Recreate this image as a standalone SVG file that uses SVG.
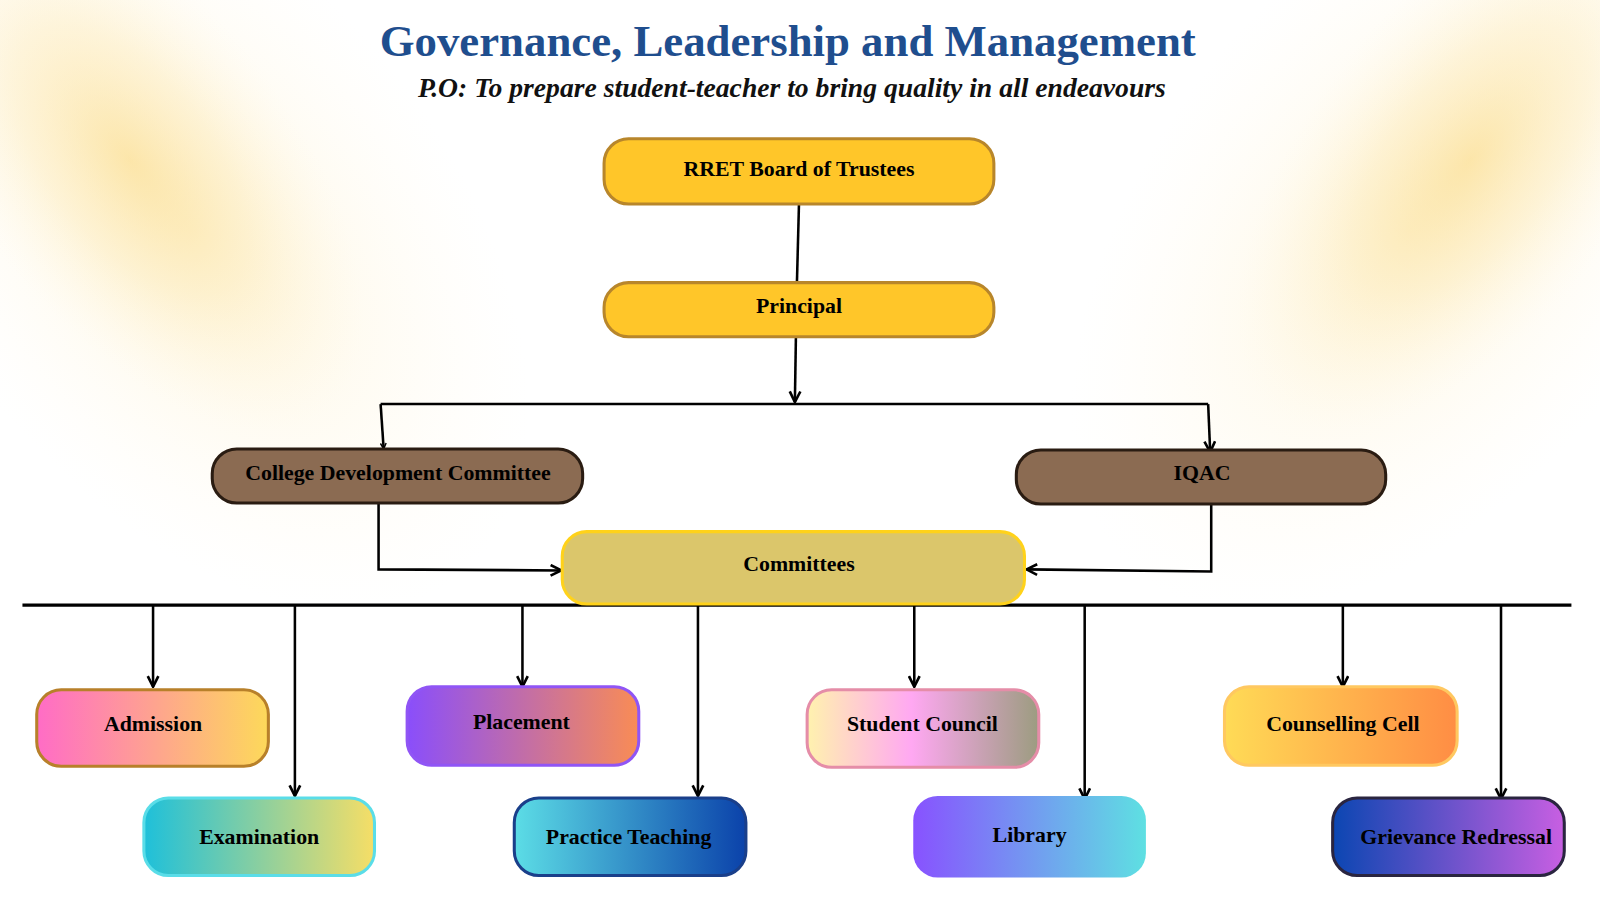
<svg xmlns="http://www.w3.org/2000/svg" width="1600" height="897" viewBox="0 0 1600 897">
<defs>
  <radialGradient id="glow" cx="0.5" cy="0.5" r="0.5">
    <stop offset="0" stop-color="#FAD77A" stop-opacity="0.55"/>
    <stop offset="0.5" stop-color="#FCE4A4" stop-opacity="0.32"/>
    <stop offset="1" stop-color="#FFF6DC" stop-opacity="0"/>
  </radialGradient>
  <radialGradient id="glow2" cx="0.5" cy="0.5" r="0.5">
    <stop offset="0" stop-color="#FDEBB8" stop-opacity="0.55"/>
    <stop offset="1" stop-color="#FFF8E6" stop-opacity="0"/>
  </radialGradient>
  <linearGradient id="gAdm" x1="0" x2="1"><stop offset="0" stop-color="#FF6CC6"/><stop offset="1" stop-color="#FDD95A"/></linearGradient>
  <linearGradient id="gExa" x1="0" x2="1"><stop offset="0" stop-color="#1EC0DA"/><stop offset="1" stop-color="#F6DE66"/></linearGradient>
  <linearGradient id="gPla" x1="0" x2="1"><stop offset="0" stop-color="#8A4EFB"/><stop offset="1" stop-color="#F98C55"/></linearGradient>
  <linearGradient id="gPra" x1="0" x2="1"><stop offset="0" stop-color="#5CDDE6"/><stop offset="1" stop-color="#0B42AA"/></linearGradient>
  <linearGradient id="gStu" x1="0" x2="1"><stop offset="0" stop-color="#FFF2AE"/><stop offset="0.45" stop-color="#FFA8F2"/><stop offset="1" stop-color="#9C9C80"/></linearGradient>
  <linearGradient id="gLib" x1="0" x2="1"><stop offset="0" stop-color="#8852FF"/><stop offset="1" stop-color="#5EE0E2"/></linearGradient>
  <linearGradient id="gCou" x1="0" x2="1"><stop offset="0" stop-color="#FFDB56"/><stop offset="1" stop-color="#FF8D44"/></linearGradient>
  <linearGradient id="gGri" x1="0" x2="1"><stop offset="0" stop-color="#0B46B2"/><stop offset="1" stop-color="#C85FE2"/></linearGradient>
  <marker id="arr" viewBox="0 0 10 10" refX="9" refY="5" markerWidth="7" markerHeight="7" markerUnits="userSpaceOnUse" orient="auto">
    <path d="M1,1 L9,5 L1,9" fill="none" stroke="#000" stroke-width="2"/>
  </marker>
  <marker id="arrB" viewBox="0 0 10 10" refX="9" refY="5" markerWidth="13" markerHeight="13" markerUnits="userSpaceOnUse" orient="auto">
    <path d="M1,1 L9,5 L1,9" fill="none" stroke="#000" stroke-width="2"/>
  </marker>
</defs>
<style>
  .lbl{font-family:"Liberation Serif","Times New Roman",serif;font-weight:bold;font-size:21.4px;fill:#000;text-anchor:middle;dominant-baseline:central}
  .ln{fill:none;stroke:#000;stroke-width:2.5}
  .gold{fill:#FFC629;stroke:#B8862B;stroke-width:3}
  .brown{fill:#8B6B52;stroke:#2A1C12;stroke-width:3}
</style>
<rect width="1600" height="897" fill="#FFFFFF"/>
<g id="background">
  <ellipse cx="190" cy="230" rx="440" ry="260" transform="rotate(52 190 230)" fill="url(#glow2)"/>
  <ellipse cx="130" cy="160" rx="320" ry="160" transform="rotate(52 130 160)" fill="url(#glow)"/>
  <ellipse cx="1410" cy="230" rx="440" ry="260" transform="rotate(-52 1410 230)" fill="url(#glow2)"/>
  <ellipse cx="1470" cy="160" rx="320" ry="160" transform="rotate(-52 1470 160)" fill="url(#glow)"/>
</g>
<g transform="scale(1.0204)">
<g id="title">
  <text x="772" y="55" text-anchor="middle" font-family="'Liberation Serif','Times New Roman',serif" font-weight="bold" font-size="43.9" fill="#1F4E8E">Governance, Leadership and Management</text>
  <text x="776" y="95" text-anchor="middle" font-family="'Liberation Serif','Times New Roman',serif" font-weight="bold" font-style="italic" font-size="27.1" fill="#111">P.O: To prepare student-teacher to bring quality in all endeavours</text>
</g>
<g id="connectors">
  <path class="ln" d="M783,200 L781,277"/>
  <path class="ln" d="M780,330 L779,394" marker-end="url(#arrB)"/>
  <path class="ln" d="M373,396 L1184,396"/>
  <path class="ln" d="M373,396 L376,440" marker-end="url(#arr)"/>
  <path class="ln" d="M1184,396 L1186,443" marker-end="url(#arrB)"/>
  <path class="ln" d="M371,493 L371,558 L550,559" marker-end="url(#arrB)"/>
  <path class="ln" d="M1187,494 L1187,560 L1006,558" marker-end="url(#arrB)"/>
  <path d="M22,593 L1540,593" fill="none" stroke="#000" stroke-width="3"/>
  <path class="ln" d="M150,593 L150,673" marker-end="url(#arrB)"/>
  <path class="ln" d="M289,593 L289,780" marker-end="url(#arrB)"/>
  <path class="ln" d="M512,593 L512,673" marker-end="url(#arrB)"/>
  <path class="ln" d="M684,593 L684,780" marker-end="url(#arrB)"/>
  <path class="ln" d="M896,593 L896,673" marker-end="url(#arrB)"/>
  <path class="ln" d="M1063,593 L1063,783" marker-end="url(#arrB)"/>
  <path class="ln" d="M1316,593 L1316,673" marker-end="url(#arrB)"/>
  <path class="ln" d="M1471,593 L1471,783" marker-end="url(#arrB)"/>
</g>
<g id="node-board">
  <rect class="gold" x="592" y="136" width="382" height="64" rx="24"/>
  <text class="lbl" x="783" y="166">RRET Board of Trustees</text>
</g>
<g id="node-principal">
  <rect class="gold" x="592" y="277" width="382" height="53" rx="24"/>
  <text class="lbl" x="783" y="300">Principal</text>
</g>
<g id="node-cdc">
  <rect class="brown" x="208" y="440" width="363" height="53" rx="24"/>
  <text class="lbl" x="390" y="464">College Development Committee</text>
</g>
<g id="node-iqac">
  <rect class="brown" x="996" y="441" width="362" height="53" rx="24"/>
  <text class="lbl" x="1178" y="464">IQAC</text>
</g>
<g id="node-committees">
  <rect x="551" y="521" width="453" height="71" rx="24" fill="#DBC66B" stroke="#FFD21A" stroke-width="3"/>
  <text class="lbl" x="783" y="553">Committees</text>
</g>
<g id="node-admission">
  <rect x="36" y="676" width="227" height="75" rx="24" fill="url(#gAdm)" stroke="#B8802A" stroke-width="3"/>
  <text class="lbl" x="150" y="710">Admission</text>
</g>
<g id="node-examination">
  <rect x="141" y="782" width="226" height="76" rx="24" fill="url(#gExa)" stroke="#5ADDE8" stroke-width="3"/>
  <text class="lbl" x="254" y="820">Examination</text>
</g>
<g id="node-placement">
  <rect x="399" y="673" width="227" height="77" rx="24" fill="url(#gPla)" stroke="#9055F5" stroke-width="3"/>
  <text class="lbl" x="511" y="708">Placement</text>
</g>
<g id="node-practice">
  <rect x="504" y="782" width="227" height="76" rx="24" fill="url(#gPra)" stroke="#1A3F8A" stroke-width="3"/>
  <text class="lbl" x="616" y="820">Practice Teaching</text>
</g>
<g id="node-student">
  <rect x="791" y="676" width="227" height="76" rx="24" fill="url(#gStu)" stroke="#E58DA8" stroke-width="3"/>
  <text class="lbl" x="904" y="710">Student Council</text>
</g>
<g id="node-library">
  <rect x="895" y="780" width="228" height="80" rx="24" fill="url(#gLib)"/>
  <text class="lbl" x="1009" y="818">Library</text>
</g>
<g id="node-counselling">
  <rect x="1200" y="673" width="228" height="77" rx="24" fill="url(#gCou)" stroke="#FFC860" stroke-width="3"/>
  <text class="lbl" x="1316" y="710">Counselling Cell</text>
</g>
<g id="node-grievance">
  <rect x="1306" y="782" width="227" height="76" rx="24" fill="url(#gGri)" stroke="#2A2540" stroke-width="3"/>
  <text class="lbl" x="1427" y="820">Grievance Redressal</text>
</g>
</g>
</svg>
